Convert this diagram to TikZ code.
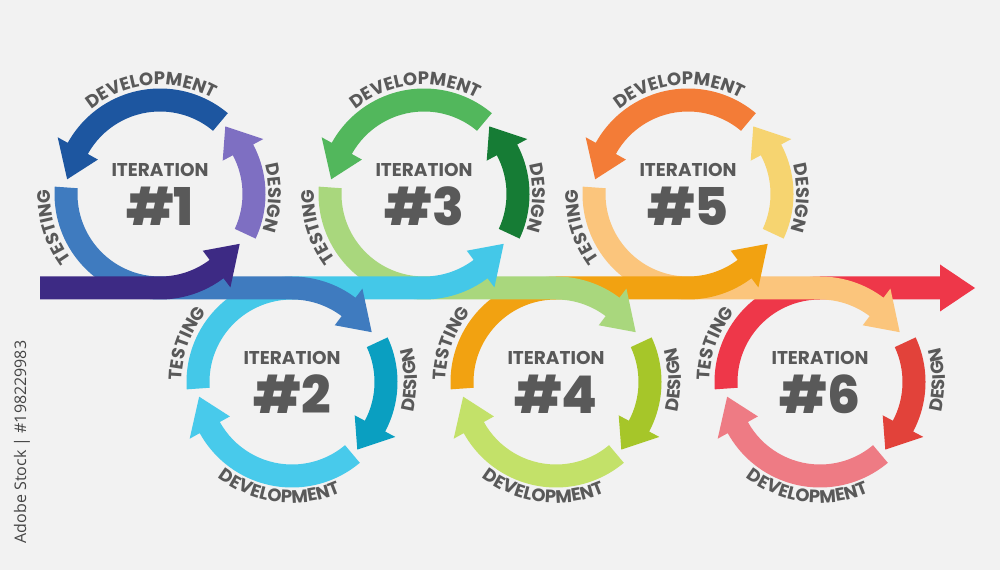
\documentclass[tikz,border=0pt]{standalone}
\usepackage{fontspec}
\setmainfont{Poppins}
\newfontfamily\numfont{Poppins}[UprightFont={* ExtraBold}]
\newfontfamily\markfont{Open Sans}
\usetikzlibrary{calc,decorations.text}

\definecolor{bg}{HTML}{F2F2F2}
\definecolor{txt}{HTML}{595959}
\definecolor{mark}{HTML}{444444}
\definecolor{start1}{HTML}{3D2A84}
\definecolor{des1}{HTML}{7E6FC2}
\definecolor{dev1}{HTML}{1D56A0}
\definecolor{test1}{HTML}{3F7BBF}
\definecolor{des2}{HTML}{0A9FC1}
\definecolor{dev2}{HTML}{48CAEB}
\definecolor{test2}{HTML}{44C8E8}
\definecolor{des3}{HTML}{167C35}
\definecolor{dev3}{HTML}{52B75C}
\definecolor{test3}{HTML}{A9D77D}
\definecolor{des4}{HTML}{A6C629}
\definecolor{dev4}{HTML}{C3E169}
\definecolor{test4}{HTML}{F2A211}
\definecolor{des5}{HTML}{F6D470}
\definecolor{dev5}{HTML}{F37C37}
\definecolor{test5}{HTML}{FBC57C}
\definecolor{des6}{HTML}{E2423A}
\definecolor{dev6}{HTML}{EE7B84}
\definecolor{test6}{HTML}{EE3749}

\newcommand\lblfont{\bfseries\fontsize{18}{20}\selectfont}

% ring arrow: centre, colour, tail angle, head base angle, tip angle
\newcommand\ringarrow[5]{%
  \path[fill=#2] ($(#1)+(#3:105.5)$) arc[start angle=#3,end angle=#4,radius=105.5]
    -- ($(#1)+(#4:117)$) -- ($(#1)+(#5:94)$) -- ($(#1)+(#4:71)$)
    -- ($(#1)+(#4:82.5)$) arc[start angle=#4,end angle=#3,radius=82.5] -- cycle;}

% testing arc of an upper ring running into the next lower ring
\newcommand\banddown[3]{%
  \path[fill=#3] ($(#1)+(176:105.5)$) arc[start angle=176,end angle=270,radius=105.5]
    -- ($(#2)+(90:82.5)$) arc[start angle=90,end angle=53,radius=82.5]
    -- ($(#2)+(53:71)$) -- ($(#2)+(32:94)$) -- ($(#2)+(53:117)$)
    -- ($(#2)+(53:105.5)$) arc[start angle=53,end angle=90,radius=105.5]
    -- ($(#1)+(270:82.5)$) arc[start angle=270,end angle=176,radius=82.5] -- cycle;}

% testing arc of a lower ring running into the next upper ring
\newcommand\bandup[3]{%
  \path[fill=#3] ($(#1)+(184:105.5)$) arc[start angle=184,end angle=90,radius=105.5]
    -- ($(#2)+(270:82.5)$) arc[start angle=270,end angle=307,radius=82.5]
    -- ($(#2)+(307:71)$) -- ($(#2)+(328:94)$) -- ($(#2)+(307:117)$)
    -- ($(#2)+(307:105.5)$) arc[start angle=307,end angle=270,radius=105.5]
    -- ($(#1)+(90:82.5)$) arc[start angle=90,end angle=184,radius=82.5] -- cycle;}

\begin{document}
\begin{tikzpicture}[x=1pt,y=1pt,
  lbl/.style={decorate,decoration={text along path,text align=center,
    text color=txt,text={|\lblfont|#1}}}]
\fill[bg] (0,0) rectangle (1000,570);
\path[use as bounding box] (0,0) rectangle (1000,570);

\foreach \n/\x/\y in {1/160/376,2/292/188,3/424/376,4/556/188,5/688/376,6/820/188}
  \coordinate (c\n) at (\x,\y);

% design and development arrows
\foreach \n in {1,3,5}{
  \ringarrow{c\n}{des\n}{-25}{28}{46}
  \ringarrow{c\n}{dev\n}{50}{151}{171}
}
\foreach \n in {2,4,6}{
  \ringarrow{c\n}{des\n}{25}{-28}{-46}
  \ringarrow{c\n}{dev\n}{-50}{-151}{-171}
}

% timeline, from the end back to the start
\fill[test6] ($(c6)+(184:105.5)$) arc[start angle=184,end angle=90,radius=105.5]
  -- (940,293.5) -- (940,305.5) -- (975,282) -- (940,258.5) -- (940,270.5)
  -- ($(c6)+(90:82.5)$) arc[start angle=90,end angle=184,radius=82.5] -- cycle;
\banddown{c5}{c6}{test5}
\bandup{c4}{c5}{test4}
\banddown{c3}{c4}{test3}
\bandup{c2}{c3}{test2}
\banddown{c1}{c2}{test1}
\fill[start1] (40,270.5) -- ($(c1)+(270:105.5)$) arc[start angle=270,end angle=307,radius=105.5]
  -- ($(c1)+(307:117)$) -- ($(c1)+(328:94)$) -- ($(c1)+(307:71)$)
  -- ($(c1)+(307:82.5)$) arc[start angle=307,end angle=270,radius=82.5]
  -- (40,293.5) -- cycle;

% labels round the rings
\foreach \n in {1,3,5}{
  \path[lbl=DEVELOPMENT] ($(c\n)+(170:109)$) arc[start angle=170,end angle=20,radius=109];
  \path[lbl=DESIGN] ($(c\n)+(58:109)$) arc[start angle=58,end angle=-62,radius=109];
  \path[lbl=TESTING] ($(c\n)+(257:110)$) arc[start angle=257,end angle=137,radius=110];
}
\foreach \n in {2,4,6}{
  \path[lbl=TESTING] ($(c\n)+(220:110)$) arc[start angle=220,end angle=100,radius=110];
  \path[lbl=DESIGN] ($(c\n)+(-59:125)$) arc[start angle=-59,end angle=61,radius=125];
  \path[lbl=DEVELOPMENT] ($(c\n)+(188:121)$) arc[start angle=188,end angle=338,radius=121];
}

\foreach \n in {1,...,6}{
  \node[anchor=base,text=txt,font=\bfseries\fontsize{18.5}{20}\selectfont] (it\n)
    at ($(c\n)+(0,17.5)$) {ITERATION};
  \node[anchor=base,text=txt,font=\numfont\fontsize{52}{52}\selectfont] (num\n)
    at ($(c\n)+(0,-31.5)$) {\#\n};
}

\node[rotate=90,text=mark,font=\markfont\fontsize{16}{18}\selectfont] (stock)
  at (22,128) {Adobe Stock | \#198229983};
\end{tikzpicture}
\end{document}
